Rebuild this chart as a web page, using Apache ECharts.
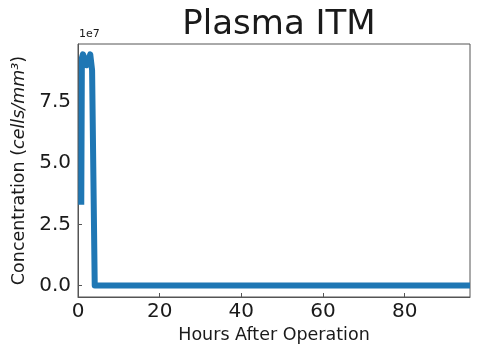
<!DOCTYPE html>
<html>
<head>
<meta charset="utf-8">
<script src="https://cdn.jsdelivr.net/npm/echarts@6/dist/echarts.min.js"></script>
<style>
  html, body { margin: 0; padding: 0; background: #fff; }
  #chart { width: 479px; height: 354px; }
</style>
</head>
<body>
<div id="chart"></div>
<script>
// hours after operation and plasma ITM concentration (cells/mm^3)
const hours = [0.8, 0.95, 1.2, 1.6, 2.1, 2.6, 3.0, 3.3, 3.45, 4.1, 10, 20, 40, 60, 80, 96]
const concentration = [3.3e7, 9.3e7, 9.45e7, 9.3e7, 9.0e7, 9.2e7, 9.45e7, 9.4e7, 8.8e7, 0, 0, 0, 0, 0, 0, 0]
const xTicks = [0, 20, 40, 60, 80]
const yTicks = [0, 2.5e7, 5e7, 7.5e7]

const font = 'DejaVu Sans'
const ink = '#1a1a1a'
const spine = '#555'

const chart = echarts.init(document.getElementById('chart'))

const option = {
  animation: false,
  textStyle: { fontFamily: font },
  title: {
    text: 'Plasma ITM',
    left: 274,
    textAlign: 'center',
    top: 3,
    textStyle: { fontFamily: font, fontSize: 34, fontWeight: 'normal', color: ink }
  },
  graphic: [
    {
      type: 'text',
      left: 79,
      top: 29,
      style: { text: '1e7', font: '11px "DejaVu Sans"', fill: ink }
    }
  ],
  grid: {
    left: 78,
    right: 9,
    top: 44,
    bottom: 57,
    show: true,
    borderColor: spine,
    borderWidth: 1
  },
  xAxis: {
    type: 'value',
    min: 0,
    max: 96,
    name: 'Hours After Operation',
    nameLocation: 'middle',
    nameGap: 29,
    nameTextStyle: { fontFamily: font, fontSize: 17.5, color: ink },
    axisLine: { show: true, onZero: false, lineStyle: { color: spine } },
    axisTick: { show: true, inside: true, length: 4, customValues: xTicks, lineStyle: { color: spine } },
    axisLabel: {
      fontFamily: font, fontSize: 20, color: ink, margin: 5,
      customValues: xTicks,
      formatter: v => String(v)
    },
    splitLine: { show: false }
  },
  yAxis: {
    type: 'value',
    min: -0.47e7,
    max: 9.87e7,
    name: '{n|Concentration (}{i|cells/mm³}{n|)}',
    nameLocation: 'middle',
    nameGap: 48,
    nameTextStyle: {
      fontFamily: font, fontSize: 17.5, color: ink,
      rich: {
        n: { fontFamily: font, fontSize: 17.5, color: ink },
        i: { fontFamily: font, fontSize: 17.5, color: ink, fontStyle: 'italic' }
      }
    },
    axisLine: { show: true, onZero: false, lineStyle: { color: spine } },
    axisTick: { show: true, inside: true, length: 4, customValues: yTicks, lineStyle: { color: spine } },
    axisLabel: {
      fontFamily: font, fontSize: 20, color: ink, margin: 7,
      customValues: yTicks,
      formatter: v => (v / 1e7).toFixed(1)
    },
    splitLine: { show: false }
  },
  series: [
    {
      type: 'line',
      data: hours.map((h, i) => [h, concentration[i]]),
      showSymbol: false,
      lineStyle: { color: '#1f77b4', width: 6, join: 'round', cap: 'butt' },
      clip: true
    }
  ]
}

chart.setOption(option)
</script>
</body>
</html>
